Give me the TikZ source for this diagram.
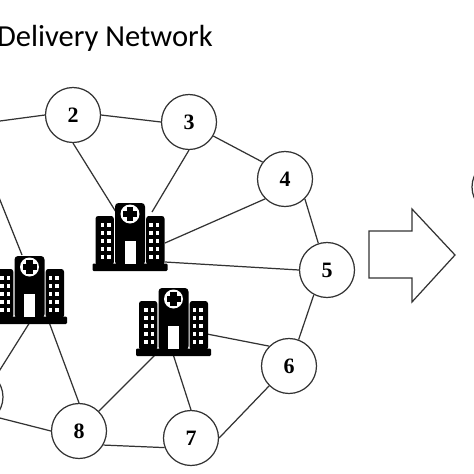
\documentclass[tikz,border=0pt]{standalone}
\usepackage{fontspec}
\setmainfont{Liberation Serif}
\newfontfamily\titlefont{Carlito}
\usetikzlibrary{positioning,calc}
\tikzset{
  netnode/.style={draw=black!80, circle, fill=white, line width=0.7pt, minimum size=1.1cm, inner sep=0pt, font=\fontsize{12.5}{13}\selectfont\bfseries},
  netedge/.style={draw=black!80, line width=0.7pt},
  blockarrow/.style={draw=black!80, line width=0.7pt, fill=white, line join=miter},
  titlelabel/.style={font=\titlefont\fontsize{17.4}{20}\selectfont, inner sep=0pt, anchor=base east},
  hospitalbox/.style={rectangle, inner sep=0pt, minimum width=1.5cm, minimum height=1.36cm},
  hospital/.pic={
    \fill[black, rounded corners=0.6pt] (-37.5,0) rectangle (37.5,-7.5);
    \fill[black, rounded corners=1.5pt] (-34.5,-6) rectangle (-16.2,-55);
    \fill[black, rounded corners=1.5pt] (16.2,-6) rectangle (34.5,-55);
    \fill[black, rounded corners=2pt] (-15,-6) rectangle (15,-68);
    \fill[white] (-5.5,-7.5) rectangle (5.5,-30);
    \fill[white] (0,-57) circle[radius=9.5];
    \fill[black] (-3.2,-64) rectangle (3.2,-50);
    \fill[black] (-7,-60.2) rectangle (7,-53.8);
    \foreach \wx in {-27.5,-21,21,27.5}
      \foreach \wy in {-46,-38,-30,-22,-14}
        \fill[white] (\wx-1.9,\wy-1.9) rectangle (\wx+1.9,\wy+1.9);
  }
}

\begin{document}
\begin{tikzpicture}[x=0.02cm, y=-0.02cm]
  \useasboundingbox (0,0) rectangle (474,474);
  \clip (0,0) rectangle (474,474);
  \fill[white] (0,0) rectangle (474,474);

  \node[titlelabel] (title) at (213,46) {Delivery Network};

  % hospital boxes, the pictures go on top at the end
  \node[hospitalbox] (h1) at (130,237) {};
  \node[hospitalbox] (h2) at (29.5,290) {};
  \node[hospitalbox] (h3) at (173.5,322) {};

  \coordinate (h1a) at (116,212);
  \coordinate (h1b) at (152,212);
  \coordinate (h1c) at (165,243);
  \coordinate (h1d) at (165,262);
  \coordinate (h2a) at (22,255);
  \coordinate (h2b) at (30,322);
  \coordinate (h2c) at (49,322);
  \coordinate (h3a) at (207,334);
  \coordinate (h3b) at (173,354);
  \coordinate (h3c) at (156,354);

  \node[netnode] (n1) at (-30,125) {};
  \node[netnode] (n2) at (73,115) {2};
  \node[netnode] (n3) at (189,122) {3};
  \node[netnode] (n4) at (285,179) {4};
  \node[netnode] (n5) at (327,270) {5};
  \node[netnode] (n6) at (289,366) {6};
  \node[netnode] (n7) at (191,438) {7};
  \node[netnode] (n8) at (79,431) {8};
  \node[netnode] (n9) at (-24.5,397) {};
  \node[netnode] (n10) at (499.5,187) {};

  \draw[netedge] (n1.center) -- (n2.west);
  \draw[netedge] (n2.east) -- (n3.west);
  \draw[netedge] (n3.-30) -- (n4.143);
  \draw[netedge] (n4.-45) -- (n5.108);
  \draw[netedge] (n5.-118) -- (n6.70);
  \draw[netedge] (n6.-135) -- (n7.east);
  \draw[netedge] (n7.-160) -- (n8.-30);
  \draw[netedge] (n8.west) -- (n9.-45);
  \draw[netedge] (n1.center) -- (h2a);
  \draw[netedge] (n2.south) -- (h1a);
  \draw[netedge] (n3.south) -- (h1b);
  \draw[netedge] (n4.-135) -- (h1c);
  \draw[netedge] (n5.west) -- (h1d);
  \draw[netedge] (n6.135) -- (h3a);
  \draw[netedge] (n7.north) -- (h3b);
  \draw[netedge] (n8.45) -- (h3c);
  \draw[netedge] (n8.north) -- (h2c);
  \draw[netedge] (n9.45) -- (h2b);

  \pic at (130,271) {hospital};
  \pic at (29.5,324) {hospital};
  \pic at (173.5,356) {hospital};

  \draw[blockarrow] (369,231) -- (412,231) -- (412,209) -- (455,255) -- (412,302) -- (412,278) -- (369,278) -- cycle;
\end{tikzpicture}
\end{document}
